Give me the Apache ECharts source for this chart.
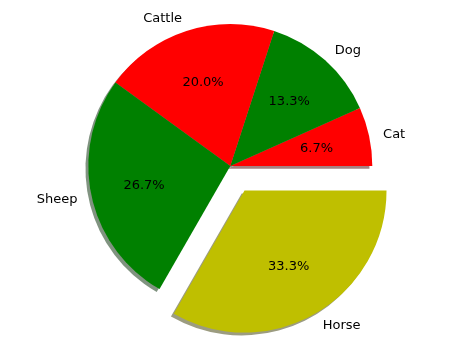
<!DOCTYPE html>
<html>
<head>
<meta charset="utf-8">
<script src="https://cdn.jsdelivr.net/npm/echarts@6/dist/echarts.min.js"></script>
<style>html,body{margin:0;padding:0;background:#fff;}#c{width:474px;height:358px;}</style>
</head>
<body>
<div id="c"></div>
<script>
const labels = ['Cat', 'Dog', 'Cattle', 'Sheep', 'Horse'];
const values = [6.7, 13.3, 20.0, 26.7, 33.3];
const colors = ['#ff0000', '#008000', '#ff0000', '#008000', '#bfbf00'];
const shadowColors = ['rgb(166,128,128)', 'rgb(128,147,128)', 'rgb(166,128,128)', 'rgb(128,147,128)', 'rgb(156,156,128)'];
const exploded = [false, false, false, false, true];

const cx = 230.3, cy = 166, R = 142;
const explodeOff = 0.2 * R;
const shadowOff = 0.02 * R;
const font = { fontFamily: 'DejaVu Sans', fontSize: 13, color: '#000' };

function mk(colorArr) {
  return labels.map((n, i) => ({
    name: n, value: values[i], selected: exploded[i],
    itemStyle: { color: colorArr ? colorArr[i] : 'rgba(0,0,0,0)', borderWidth: 0 }
  }));
}
const base = {
  type: 'pie', startAngle: 0, clockwise: false, selectedMode: 'single',
  selectedOffset: explodeOff, avoidLabelOverlap: false, silent: true,
  emphasis: { disabled: true }, animation: false, minAngle: 0
};
const chart = echarts.init(document.getElementById('c'), null, { renderer: 'canvas' });
chart.setOption({
  backgroundColor: '#ffffff',
  animation: false,
  series: [
    Object.assign({}, base, {
      center: [cx - shadowOff, cy + shadowOff], radius: R,
      label: { show: false }, labelLine: { show: false },
      data: mk(shadowColors)
    }),
    Object.assign({}, base, {
      center: [cx, cy], radius: R,
      label: { show: false }, labelLine: { show: false },
      data: mk(colors)
    }),
    Object.assign({}, base, {
      center: [cx, cy], radius: [0, 1.2 * R],
      label: Object.assign({ show: true, position: 'inside', offset: [0, 1],
        formatter: p => p.percent.toFixed(1) + '%' }, font),
      labelLine: { show: false },
      data: mk(null)
    }),
    Object.assign({}, base, {
      center: [cx, cy], radius: 1.1 * R,
      label: Object.assign({ show: true, position: 'outside', distanceToLabelLine: 0, offset: [0, 1],
        formatter: '{b}' }, font),
      labelLine: { show: false, length: 0, length2: 0 },
      data: mk(null)
    })
  ]
});
</script>
</body>
</html>
